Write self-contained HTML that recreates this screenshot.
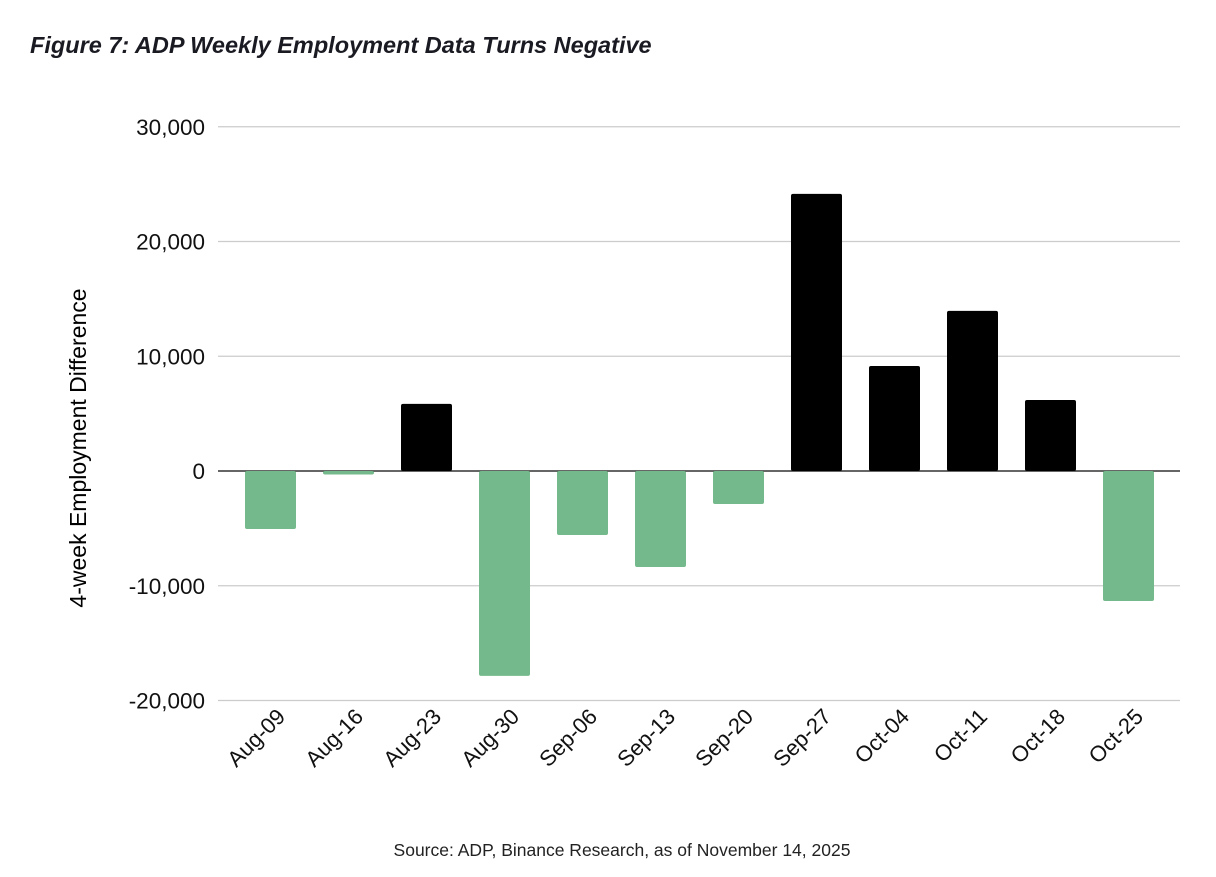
<!DOCTYPE html>
<html><head><meta charset="utf-8"><style>
body{margin:0;background:#fff;width:1216px;height:872px;overflow:hidden}
svg text{font-family:"Liberation Sans",Arial,sans-serif}
</style></head><body>
<svg id="chart" width="1216" height="872" xmlns="http://www.w3.org/2000/svg">
<text x="30" y="53" font-size="23.5" font-weight="bold" font-style="italic" fill="#1a1a22">Figure 7: ADP Weekly Employment Data Turns Negative</text>
<text transform="translate(86,448) rotate(-90)" text-anchor="middle" font-size="23" fill="#000">4-week Employment Difference</text>
<text x="622" y="856" text-anchor="middle" font-size="17.5" fill="#222">Source: ADP, Binance Research, as of November 14, 2025</text>
<g id="grid"></g><g id="bars"></g><g id="xlabels"></g>
</svg>
<script>
const categories=["Aug-09","Aug-16","Aug-23","Aug-30","Sep-06","Sep-13","Sep-20","Sep-27","Oct-04","Oct-11","Oct-18","Oct-25"];
const values=[-5050,-300,5850,-17850,-5580,-8370,-2880,24150,9150,13950,6190,-11330];
const yTicks=[30000,20000,10000,0,-10000,-20000];
const yTickLabels=["30,000","20,000","10,000","0","-10,000","-20,000"];
const NS="http://www.w3.org/2000/svg";
const x0=218,x1=1180,bw=51;
const step=78,first=270.5;
const y=v=>471-v*0.011475;
const xc=i=>first+step*i;
function mk(t,a,p){const e=document.createElementNS(NS,t);for(const k in a)e.setAttribute(k,a[k]);p.appendChild(e);return e;}
const grid=document.getElementById('grid'),bars=document.getElementById('bars'),xl=document.getElementById('xlabels');
yTicks.forEach((v,i)=>{
 const l=mk('line',{x1:x0,x2:x1,y1:y(v),y2:y(v),stroke:v===0?'#333':'#ccc','stroke-width':v===0?1.5:1.2},grid);
 
 
 const t=mk('text',{x:205,y:y(v)+8,'text-anchor':'end','font-size':22.5,fill:'#111'},grid);
 t.textContent=yTickLabels[i];
 
 
});
values.forEach((v,i)=>{
 const top=Math.min(y(v),y(0)),h=Math.abs(y(v)-y(0));
 const r=mk('rect',{x:xc(i)-bw/2,y:top,width:bw,height:Math.max(h,1),rx:2,fill:v<0?'#74b98b':'#000'},bars);
 
 
 const t=mk('text',{transform:`translate(${xc(i)+16},${718}) rotate(-45)`,'text-anchor':'end','font-size':22,fill:'#111'},xl);
 t.textContent=categories[i];
 
 
});
</script>
</body></html>
